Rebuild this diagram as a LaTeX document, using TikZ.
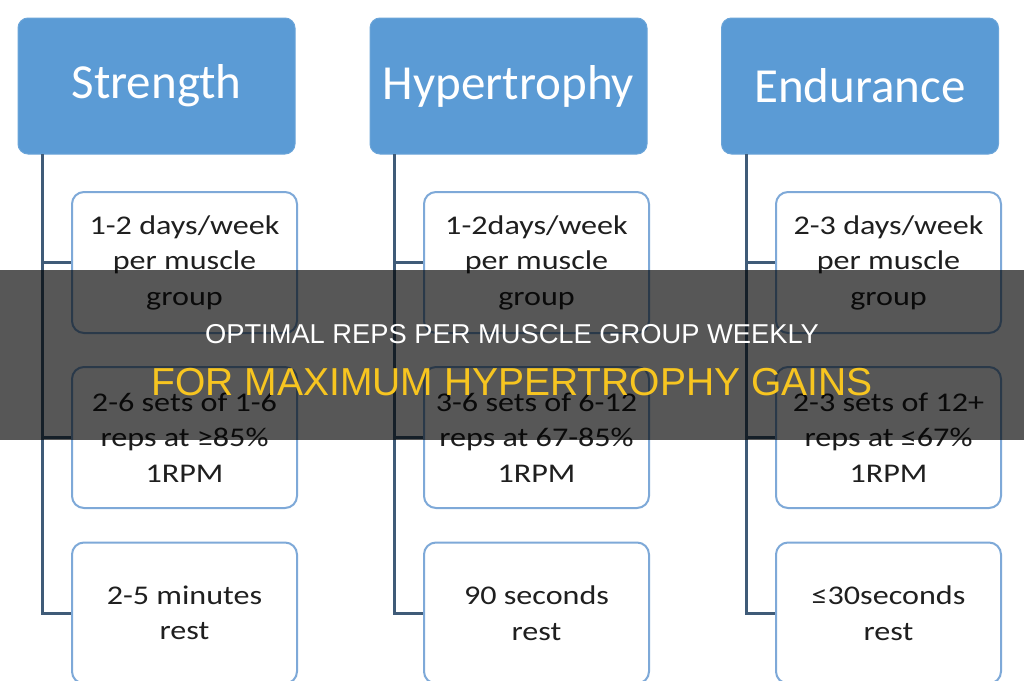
\documentclass[tikz,border=0pt]{standalone}
\usepackage{fontspec}
\setmainfont{Carlito}
\newfontfamily\itemfont{Carlito}[FakeStretch=1.19]
\newfontfamily\bannerfont{Liberation Sans}
\definecolor{hdrblue}{HTML}{5B9BD5}
\definecolor{boxline}{HTML}{7EA9D8}
\definecolor{connline}{HTML}{3F5B78}
\definecolor{banneryellow}{HTML}{F7C520}
\tikzset{
  header/.style={rounded corners=10pt, fill=hdrblue, draw=hdrblue!90!white, line width=1pt,
    minimum width=277pt, minimum height=136pt, text=white, font=\fontsize{49}{52}\selectfont, inner sep=0pt},
  item/.style={rounded corners=12pt, fill=white, draw=boxline, line width=2pt,
    minimum width=225pt, minimum height=141pt, text=black!88, align=center,
    font=\itemfont\fontsize{27}{35.5}\selectfont, inner sep=0pt},
  conn/.style={draw=connline, line width=3pt},
  bannertext/.style={text=white, font=\bannerfont\fontsize{27.3}{30}\selectfont, inner sep=0pt},
  bannertexty/.style={text=banneryellow, font=\bannerfont\fontsize{39}{42}\selectfont, inner sep=0pt}
}
\begin{document}
\begin{tikzpicture}[x=1pt,y=-1pt]
\useasboundingbox (0,0) rectangle (1024,680);
\clip (0,0) rectangle (1024,680);
\fill[white] (0,0) rectangle (1024,680);

% Strength column
\node[header] (h1) at (156.5,86) {Strength};
\node[item] (a1) at (184.5,262.5) {1-2 days/week\\per muscle\\group};
\node[item] (a2) at (184.5,437.5) {2-6 sets of 1-6\\reps at ≥85\%\\1RPM};
\node[item] (a3) at (184.5,613) {2-5 minutes\\rest};
\coordinate (s1) at (42,154);
\coordinate (s1a) at (42,262.5);
\coordinate (s1b) at (42,437.5);
\coordinate (s1c) at (42,613);

% Hypertrophy column
\node[header] (h2) at (508.5,86) {Hypertrophy};
\node[item] (b1) at (536.5,262.5) {1-2days/week\\per muscle\\group};
\node[item] (b2) at (536.5,437.5) {3-6 sets of 6-12\\reps at 67-85\%\\1RPM};
\node[item] (b3) at (536.5,613) {90 seconds\\rest};
\coordinate (s2) at (394,154);
\coordinate (s2a) at (394,262.5);
\coordinate (s2b) at (394,437.5);
\coordinate (s2c) at (394,613);

% Endurance column
\node[header] (h3) at (860,86) {Endurance};
\node[item] (c1) at (888.5,262.5) {2-3 days/week\\per muscle\\group};
\node[item] (c2) at (888.5,437.5) {2-3 sets of 12+\\reps at ≤67\%\\1RPM};
\node[item] (c3) at (888.5,613) {≤30seconds\\rest};
\coordinate (s3) at (746,154);
\coordinate (s3a) at (746,262.5);
\coordinate (s3b) at (746,437.5);
\coordinate (s3c) at (746,613);

% connectors
\draw[conn] (s1) -- (s1c) -- (a3.west);
\draw[conn] (s1a) -- (a1.west);
\draw[conn] (s1b) -- (a2.west);
\draw[conn] (s2) -- (s2c) -- (b3.west);
\draw[conn] (s2a) -- (b1.west);
\draw[conn] (s2b) -- (b2.west);
\draw[conn] (s3) -- (s3c) -- (c3.west);
\draw[conn] (s3a) -- (c1.west);
\draw[conn] (s3b) -- (c2.west);

% banner
\fill[black, opacity=0.66] (0,270) rectangle (1024,440);
\node[bannertext, anchor=base] (t1) at (512,343) {OPTIMAL REPS PER MUSCLE GROUP WEEKLY};
\node[bannertexty, anchor=base] (t2) at (512,395) {FOR MAXIMUM HYPERTROPHY GAINS};
\end{tikzpicture}
\end{document}
